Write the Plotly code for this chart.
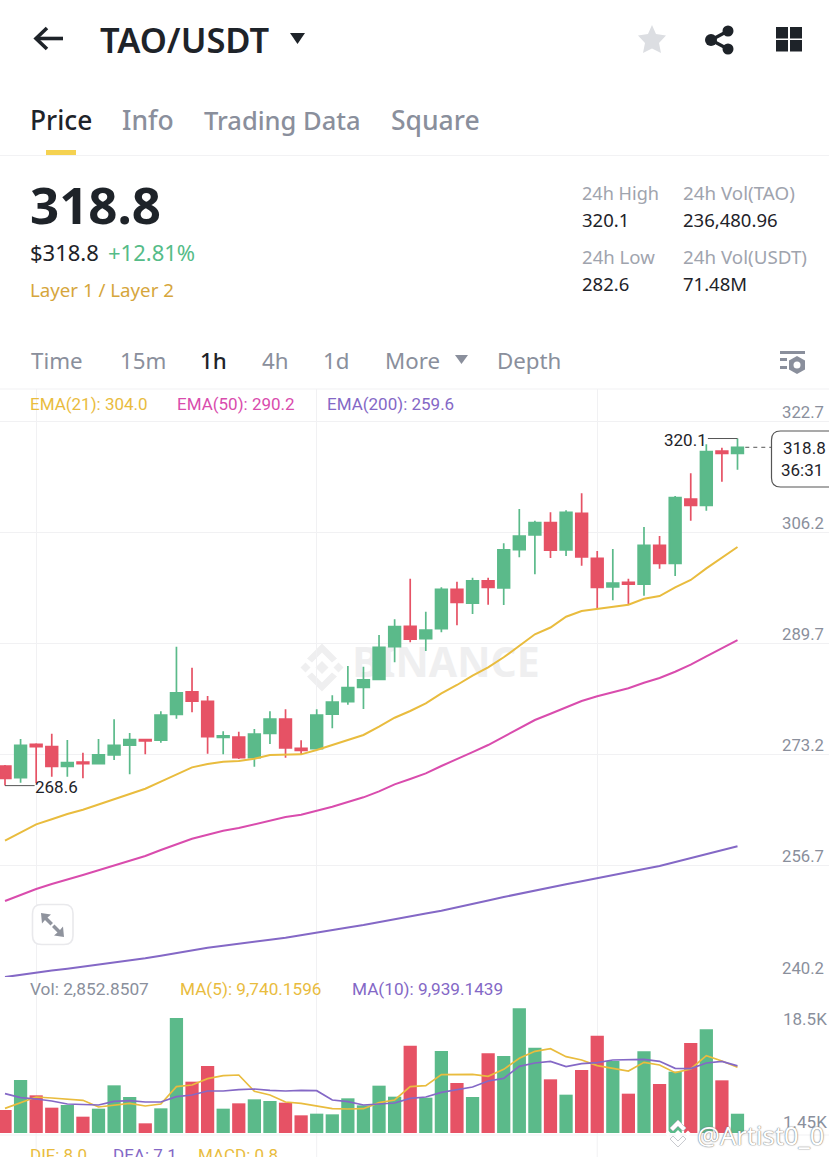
import plotly.graph_objects as go

candle_index = list(range(48))
opens = [271.51,269.77,274.73,274.37,271.46,272.10,271.85,273.14,274.62,275.41,275.36,279.18,282.53,281.11,275.76,275.81,272.74,276.36,278.48,274.13,274.07,279.22,281.05,283.19,284.37,289.21,292.24,290.40,291.88,297.73,295.69,299.00,297.92,303.60,305.79,307.61,303.56,309.01,302.33,298.07,298.77,298.51,304.26,301.59,311.13,310.19,318.25,317.91]
highs = [271.65,275.51,274.87,276.30,275.36,273.48,275.51,278.44,276.40,275.41,279.62,289.21,286.09,281.89,276.65,276.60,277.00,279.62,279.92,275.32,279.92,282.00,286.35,286.24,290.95,293.28,299.30,294.40,298.02,298.86,299.45,299.45,304.55,309.64,307.91,309.15,309.45,311.97,303.41,303.71,299.30,306.97,305.64,311.57,314.94,319.25,318.74,320.10]
lows = [268.60,269.03,268.98,269.92,269.92,269.68,271.85,272.40,270.27,273.24,274.96,278.53,279.47,273.33,273.24,272.54,271.40,274.77,272.74,273.14,273.98,277.10,280.60,279.96,284.37,286.89,289.86,288.57,291.35,292.39,294.06,295.44,295.40,302.48,299.95,302.37,302.67,301.23,294.91,296.10,295.55,296.78,300.79,299.70,307.91,309.39,313.70,315.48]
closes = [269.68,274.58,274.37,271.46,272.00,271.85,273.18,274.58,275.41,275.22,279.07,282.38,281.15,275.85,276.00,272.74,276.25,278.48,274.18,273.84,279.07,281.00,283.13,284.31,289.12,292.18,290.35,291.69,297.73,295.80,299.00,298.02,303.60,305.64,307.61,303.52,309.15,302.52,298.00,298.66,298.51,304.26,301.59,311.32,310.19,318.15,317.91,318.80]
ema21 = [260.42,261.61,262.85,263.60,264.38,265.02,265.82,266.65,267.45,268.14,269.18,270.27,271.31,271.80,272.14,272.25,272.59,273.14,273.21,273.24,273.88,274.62,275.36,276.11,277.34,278.67,279.67,280.81,282.29,283.53,284.91,286.15,287.64,289.31,291.05,292.06,293.66,294.51,294.85,295.15,295.44,296.33,296.73,298.03,299.11,300.84,302.42,304.00]
ema50 = [251.47,252.36,253.25,253.99,254.63,255.33,256.03,256.71,257.45,258.15,259.04,259.93,260.72,261.31,261.90,262.30,262.85,263.49,263.94,264.28,264.83,265.47,266.16,266.86,267.75,268.79,269.58,270.42,271.51,272.50,273.58,274.62,275.85,277.10,278.33,279.27,280.26,281.15,281.85,282.44,283.04,283.87,284.56,285.50,286.54,287.79,288.97,290.20]
ema200 = [240.19,240.52,240.89,241.16,241.43,241.72,242.05,242.35,242.64,242.97,243.35,243.77,244.20,244.53,244.82,245.09,245.42,245.73,246.03,246.43,246.80,247.17,247.54,247.91,248.36,248.76,249.17,249.62,250.03,250.51,251.03,251.55,252.07,252.56,253.03,253.50,253.95,254.40,254.88,255.33,255.78,256.22,256.67,257.26,257.81,258.40,258.94,259.60]
volumes = [3404,7844,5575,3749,4144,2417,3601,7055,5328,1431,3651,17020,7597,9916,3601,4391,4983,4736,4489,2615,2861,2763,5131,4095,7005,5377,12925,5229,12136,7400,5328,11790,11396,18450,12629,7943,5673,9324,14405,10656,5821,12087,7252,9077,13320,15343,7795,2852.85]
vol_ma5 = [3651,4539,5328,5180,5032,4835,3848,4144,4391,3996,4292,6857,7104,8041,8485,8584,6167,5624,4588,4391,4045,3601,3552,3601,4489,4884,6857,7005,8633,8682,8682,8386,9422,11050,12086,12481,11297,10803,9965,9570,9176,10458,10063,8929,9471,11445,10655,9740]
vol_ma10 = [5821,5229,5032,4736,4292,4242,4144,4686,4785,4588,4588,5377,5624,6216,6216,6413,6512,6314,6216,6314,6265,4884,4637,4144,4242,4440,5130,5328,6018,6413,6808,7695,8090,9866,10360,10606,9817,10261,10409,10803,10902,10902,10606,9570,9521,10360,10606,9939]
price_ticks = [322.7,306.2,289.7,273.2,256.7,240.2]
vol_tick_labels = ["18.5K","1.45K"]
grid_candles = [2,20,38]

W, H = 829, 1157
GREEN, RED = "#5BBA8A", "#E65265"
DARK, GRAY, LGRAY = "#1E2329", "#8A8F9C", "#9FA4AE"
YEL, PINK, PUR = "#E9BC3E", "#D94CAD", "#8468C6"
GRID = "#F1F1F3"
UI = "Noto Sans"
CH = "Roboto"
X = lambda x: x / W
Y = lambda y: 1 - y / H

ann, shp = [], []

def txt(x, y, s, size, color, anchor="left", font=UI, weight=400, shadow=None):
    f = dict(family=font, size=size, color=color, weight=weight)
    if shadow:
        f["shadow"] = shadow
    ann.append(dict(text=s, x=X(x), y=Y(y), xref="paper", yref="paper", xanchor=anchor, yanchor="middle",
                    showarrow=False, font=f, borderpad=0, borderwidth=0))

def poly(pts, fill, line=None, lw=0, layer="above", close=True):
    d = "M " + " L ".join(f"{X(a):.5f},{Y(b):.5f}" for a, b in pts) + (" Z" if close else "")
    shp.append(dict(type="path", path=d, xref="paper", yref="paper", fillcolor=fill if close else None,
                    line=dict(color=line or fill, width=lw), layer=layer))

def rect(x0, y0, x1, y1, fill, layer="above"):
    shp.append(dict(type="rect", x0=X(x0), x1=X(x1), y0=Y(y0), y1=Y(y1), xref="paper", yref="paper",
                    fillcolor=fill, line=dict(width=0), layer=layer))

def seg(x0, y0, x1, y1, color, w=1, dash="solid", layer="above"):
    shp.append(dict(type="line", x0=X(x0), x1=X(x1), y0=Y(y0), y1=Y(y1), xref="paper", yref="paper",
                    line=dict(color=color, width=w, dash=dash), layer=layer))

def dia(cx, cy, r, fill, layer="above"):
    poly([(cx, cy - r), (cx + r, cy), (cx, cy + r), (cx - r, cy)], fill, layer=layer)

def rounded(x0, y0, x1, y1, r, line, lw, fill):
    def px(a, b):
        return f"{X(a):.5f},{Y(b):.5f}"
    d = (f"M {px(x0 + r, y0)} L {px(x1 - r, y0)} Q {px(x1, y0)} {px(x1, y0 + r)} L {px(x1, y1 - r)} "
         f"Q {px(x1, y1)} {px(x1 - r, y1)} L {px(x0 + r, y1)} Q {px(x0, y1)} {px(x0, y1 - r)} "
         f"L {px(x0, y0 + r)} Q {px(x0, y0)} {px(x0 + r, y0)} Z")
    shp.append(dict(type="path", path=d, xref="paper", yref="paper", fillcolor=fill,
                    line=dict(color=line, width=lw), layer="above"))

# header
seg(36, 38.5, 63, 38.5, DARK, 3.6)
poly([(47, 28), (36, 38.5), (47, 49)], "rgba(0,0,0,0)", line=DARK, lw=3.6, close=False)
txt(100, 39.5, "TAO/USDT", 34.5, DARK, weight=600)
poly([(290, 33), (305, 33), (297.5, 44)], DARK)
poly([(652, 25), (656, 34), (666, 35.5), (659, 43), (661, 53), (652, 48.5), (643, 53), (645, 43), (638, 35.5), (648, 34)], "#DCDEE2")
seg(711, 40, 728, 31, DARK, 3.2); seg(711, 40, 728, 49, DARK, 3.2)
for cx, cy, r in [(728, 31, 5.5), (711, 40, 6), (728, 49, 5.5)]:
    shp.append(dict(type="circle", x0=X(cx - r), x1=X(cx + r), y0=Y(cy - r), y1=Y(cy + r), xref="paper", yref="paper",
                    fillcolor=DARK, line=dict(width=0)))
for a, b in [(776, 27), (790, 27), (776, 40), (790, 40)]:
    rect(a, b, a + 12, b + 11.5, DARK)

txt(30, 120, "Price", 26.3, DARK, weight=500)
txt(122, 120, "Info", 26.5, GRAY, weight=500)
txt(204, 120, "Trading Data", 25.5, GRAY, weight=500)
txt(391, 120, "Square", 26.5, GRAY, weight=500)
rect(46, 150, 76, 155, "#F5D251")
seg(0, 155.5, W, 155.5, "#F2F2F4", 1)

txt(30, 204, "318.8", 51, DARK, weight=700)
txt(30, 252.5, "$318.8", 22, DARK)
txt(108, 252.5, "+12.81%", 22, "#55BC88")
txt(30, 289.5, "Layer 1 / Layer 2", 18.7, "#D6A63C")
txt(582, 193, "24h High", 18.1, LGRAY)
txt(683, 193, "24h Vol(TAO)", 18.8, LGRAY)
txt(582, 257, "24h Low", 18.6, LGRAY)
txt(683, 257, "24h Vol(USDT)", 18.8, LGRAY)
for x, s in [(582, "320.1"), (683, "236,480.96")]:
    txt(x, 219.5, s, 18.5, DARK)
for x, s in [(582, "282.6"), (683, "71.48M")]:
    txt(x, 283.5, s, 18.5, DARK)

for x, s in [(31, "Time"), (120, "15m"), (262, "4h"), (323, "1d"), (385, "More"), (497, "Depth")]:
    txt(x, 361, s, 22.3, GRAY)
txt(200, 361, "1h", 22.3, DARK, weight=500)
poly([(455, 355), (468, 355), (461.5, 364)], GRAY)
rect(780, 351, 805, 354, GRAY)
rect(780, 358, 787, 361, GRAY)
rect(780, 366, 787, 369, GRAY)
poly([(797, 356), (805, 360.5), (805, 369.5), (797, 374), (789, 369.5), (789, 360.5)], GRAY)
shp.append(dict(type="circle", x0=X(793.5), x1=X(800.5), y0=Y(368.5), y1=Y(361.5), xref="paper", yref="paper",
                fillcolor="white", line=dict(width=0)))
seg(0, 389, W, 389, GRID, 1.2, layer="below")

# legend texts
txt(30, 404.5, "EMA(21): 304.0", 17, YEL, font=CH)
txt(177, 404.5, "EMA(50): 290.2", 17, PINK, font=CH)
txt(327, 404.5, "EMA(200): 259.6", 17, PUR, font=CH)
txt(30, 989, "Vol: 2,852.8507", 17.3, GRAY, font=CH)
txt(180, 989, "MA(5): 9,740.1596", 17.2, YEL, font=CH)
txt(352, 989, "MA(10): 9,939.1439", 17.2, PUR, font=CH)
txt(30, 1155, "DIF: 8.0", 17, YEL, font=CH)
txt(113, 1155, "DEA: 7.1", 17, PUR, font=CH)
txt(198, 1155, "MACD: 0.8", 17, YEL, font=CH)

# axis labels sitting just above their grid lines
for v in price_ticks:
    ann.append(dict(text=f"{v}", x=X(825.5), xref="paper", y=v, yref="y", yshift=9, xanchor="right", yanchor="middle",
                    showarrow=False, font=dict(family=CH, size=16.7, color=GRAY)))
txt(826.5, 1019, vol_tick_labels[0], 17, GRAY, "right", font=CH)
txt(826.5, 1122, vol_tick_labels[1], 17, GRAY, "right", font=CH)

# high/low/current markers
ann.append(dict(text=f"{highs[47]:.1f}", x=45.2, xref="x", y=highs[47], yref="y", xanchor="right", yanchor="middle", yshift=-1.5,
                showarrow=False, font=dict(family=CH, size=17, color=DARK)))
ann.append(dict(text=f"{lows[0]:.1f}", x=1.78, xref="x", y=lows[0], yref="y", xanchor="left", yanchor="middle", yshift=-1,
                showarrow=False, font=dict(family=CH, size=17, color=DARK)))
shp.append(dict(type="line", x0=45.1, x1=47, y0=highs[47], y1=highs[47], xref="x", yref="y", line=dict(color="#555", width=1)))
shp.append(dict(type="line", x0=0, x1=1.9, y0=lows[0], y1=lows[0], xref="x", yref="y", line=dict(color="#555", width=1)))
shp.append(dict(type="line", x0=47.5, x1=49.2, y0=closes[47], y1=closes[47], xref="x", yref="y",
                line=dict(color="#555", width=1, dash="4px,4px")))
rounded(771.5, 431, 840, 487, 9, "#555", 1.2, "white")
txt(783, 448, f"{closes[47]}", 17, DARK, font=CH)
txt(781, 470, "36:31", 17, DARK, font=CH)

# expand button
rounded(32.5, 904.5, 73, 944.5, 9, "#E9E9EC", 1.6, "white")
ar = "#8F939D"
poly([(41, 913), (51, 914.5), (47.5, 917.5), (53, 923), (50.5, 925.5), (45, 920), (42, 923.5)], ar)
poly([(64, 937), (54, 935.5), (57.5, 932.5), (52, 927), (54.5, 924.5), (60, 930), (63, 926.5)], ar)

# central watermark logo
wm = "#EFEFF0"
dia(322, 667.5, 6.5, wm, layer="below")
dia(305.5, 667.5, 5, wm, layer="below")
dia(338.5, 667.5, 5, wm, layer="below")
for s in (-1, 1):
    poly([(322, 667.5 + s * 24), (337, 667.5 + s * 9), (332, 667.5 + s * 5), (322, 667.5 + s * 15), (312, 667.5 + s * 5), (307, 667.5 + s * 9)], wm, layer="below")

# corner watermark
wc = "#C9CBD0"
for pts in ([(678, 1120), (686, 1128), (683, 1131), (678, 1126), (673, 1131), (670, 1128)],
            [(678, 1147), (686, 1139), (683, 1136), (678, 1141), (673, 1136), (670, 1139)]):
    poly(pts, "white", line=wc, lw=1)
dia(678, 1133.5, 3.5, "white")
dia(668, 1133.5, 3, "white")
dia(688, 1133.5, 3, "white")
txt(697, 1135, "@Artist0_0", 25.5, "white", font=UI, shadow="0 0 1.5px #777, 0 0 1px #777")

x_range = [-5 / 15.585, (829 - 5) / 15.585]
price_range = [240.2, 327.45]

fig = go.Figure()
# watermark word on an underlay axis pair, so the candles stay on top of it
fig.add_trace(go.Scatter(x=[28.3], y=[286.2], mode="text", text=["BINANCE"], textposition="middle center",
                         textfont=dict(family=UI, size=41, color="#EFEFF0", weight=700), xaxis="x3", yaxis="y3",
                         showlegend=False, hoverinfo="skip"))
fig.add_trace(go.Candlestick(x=candle_index, open=opens, high=highs, low=lows, close=closes, xaxis="x", yaxis="y",
                             whiskerwidth=0,
                             increasing=dict(line=dict(color=GREEN, width=1.7), fillcolor=GREEN),
                             decreasing=dict(line=dict(color=RED, width=1.7), fillcolor=RED),
                             showlegend=False))
for s, c in [(ema21, YEL), (ema50, PINK), (ema200, PUR)]:
    fig.add_trace(go.Scatter(x=candle_index, y=s, mode="lines", line=dict(color=c, width=2), xaxis="x", yaxis="y", showlegend=False))
bar_colors = [GREEN if c >= o else RED for o, c in zip(opens, closes)]
fig.add_trace(go.Bar(x=candle_index, y=volumes, marker=dict(color=bar_colors, line=dict(width=0)), xaxis="x2", yaxis="y2", showlegend=False))
for s, c in [(vol_ma5, YEL), (vol_ma10, PUR)]:
    fig.add_trace(go.Scatter(x=candle_index, y=s, mode="lines", line=dict(color=c, width=1.7), xaxis="x2", yaxis="y2", showlegend=False))

xa = dict(range=x_range, showticklabels=False, tickmode="array", tickvals=grid_candles, showgrid=True, gridcolor=GRID, gridwidth=1,
          zeroline=False, showline=False, ticks="", rangeslider=dict(visible=False), fixedrange=True)
for i in grid_candles:
    shp.append(dict(type="line", x0=i, x1=i, y0=Y(1133), y1=0, xref="x", yref="paper", line=dict(color=GRID, width=1), layer="below"))
seg(0, 1135, W, 1135, GRID, 1, layer="below")

hidden = dict(showticklabels=False, showgrid=False, zeroline=False, showline=False, ticks="", fixedrange=True)
fig.update_layout(
    width=W, height=H, autosize=False, margin=dict(l=0, r=0, t=0, b=0, pad=0),
    paper_bgcolor="white", plot_bgcolor="rgba(0,0,0,0)", showlegend=False, bargap=0.15,
    boxgap=0.25, boxgroupgap=0, boxmode="overlay",
    xaxis={**xa, "domain": [0, 1], "anchor": "y", "overlaying": "x3"},
    xaxis2={**xa, "domain": [0, 1], "anchor": "y2"},
    xaxis3={**hidden, "domain": [0, 1], "range": x_range, "anchor": "y3"},
    yaxis=dict(domain=[Y(977), Y(389)], range=price_range, tickmode="array", tickvals=price_ticks, showticklabels=False,
               showgrid=True, gridcolor=GRID, gridwidth=1.2, zeroline=False, showline=False, ticks="", fixedrange=True,
               overlaying="y3"),
    yaxis2=dict(domain=[Y(1133), Y(977)], range=[0, 23088], **hidden),
    yaxis3={**hidden, "domain": [Y(977), Y(389)], "range": price_range, "anchor": "x3"},
    annotations=ann, shapes=shp,
)
fig.write_html("out.html", include_plotlyjs=True, full_html=True, config=dict(displayModeBar=False),
               post_script="document.body.style.margin='0';document.body.style.overflow='hidden';")
